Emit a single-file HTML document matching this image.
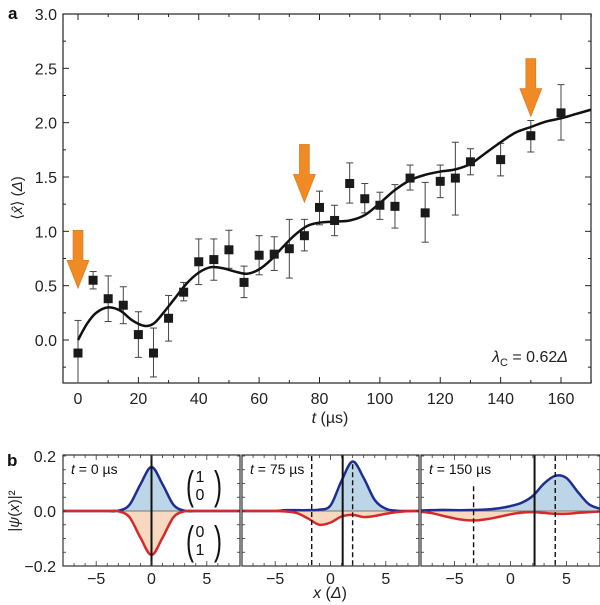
<!DOCTYPE html>
<html><head><meta charset="utf-8"><style>
body{margin:0;background:#fff;}
svg{display:block;font-family:"Liberation Sans",sans-serif;}
</style></head><body>
<svg id="fig" width="600" height="605" viewBox="0 0 600 605"></svg>
<script>
// ---- panel a data ----
const tVals=[0,5,10,15,20,25,30,35,40,45,50,55,60,65,70,75,80,85,90,95,100,105,110,115,120,125,130,140,150,160];
const xMean=[-0.12,0.55,0.38,0.32,0.05,-0.12,0.20,0.44,0.72,0.74,0.83,0.53,0.78,0.79,0.84,0.96,1.22,1.10,1.44,1.30,1.24,1.23,1.49,1.17,1.46,1.49,1.64,1.66,1.88,2.09];
const errLo=[-0.45,0.47,0.17,0.15,-0.16,-0.34,-0.01,0.36,0.51,0.55,0.66,0.39,0.60,0.64,0.57,0.82,1.06,0.96,1.26,1.17,1.11,1.03,1.38,0.90,1.31,1.15,1.52,1.51,1.73,1.84];
const errHi=[0.18,0.63,0.59,0.49,0.26,0.11,0.41,0.53,0.93,0.93,1.01,0.68,0.96,0.95,1.11,1.11,1.37,1.24,1.63,1.44,1.36,1.43,1.61,1.45,1.61,1.82,1.76,1.81,2.02,2.35];
const fitT=[0,3,6,10,14,18,22,25,28,32,36,40,44,48,52,56,60,64,68,72,76,80,85,90,95,100,105,110,115,120,125,130,135,140,145,150,155,160,165,170];
const fitY=[0,0.15,0.25,0.30,0.27,0.18,0.13,0.15,0.24,0.38,0.52,0.62,0.67,0.66,0.63,0.61,0.65,0.74,0.86,0.97,1.05,1.08,1.09,1.10,1.15,1.26,1.38,1.47,1.52,1.55,1.57,1.62,1.72,1.82,1.91,1.96,2.01,2.04,2.08,2.12];
const arrowT=[0,75,150];
const arrowTop=[1.01,1.80,2.59];
const xTicksA=[0,20,40,60,80,100,120,140,160];
const yTicksA=[0.0,0.5,1.0,1.5,2.0,2.5,3.0];
// ---- panel b data ----
const xGrid=[-8,-7,-6,-5,-4,-3,-2,-1,0,1,2,3,4,5,6,7,8];
const blue1=[0,0,0,0,0,0.001,0.022,0.097,0.16,0.097,0.022,0.001,0,0,0,0,0];
const red1=[0,0,0,0,0,-0.001,-0.022,-0.097,-0.16,-0.097,-0.022,-0.001,0,0,0,0,0];
const blue2=[0,0,0,0,0.003,0.003,0.003,0.005,0.02,0.11,0.18,0.12,0.04,0.008,0.001,0,0];
const red2=[0,0,0,0,-0.002,-0.008,-0.028,-0.05,-0.042,-0.02,-0.014,-0.022,-0.018,-0.01,-0.004,-0.001,0];
const blue3=[0.002,0.003,0.004,0.003,0.003,0.004,0.006,0.01,0.018,0.03,0.055,0.1,0.128,0.12,0.07,0.025,0.008];
const red3=[-0.003,-0.008,-0.018,-0.027,-0.033,-0.034,-0.029,-0.021,-0.012,-0.006,-0.004,-0.007,-0.01,-0.01,-0.007,-0.004,-0.002];
const solidX=[0,1.1,2.15];
const dashX=[[],[-1.7,2.0],[-3.3,4.0]];
const dashTop=[[],[0.2,0.17],[0.09,0.2]];
const panelLabels=["0","75","150"];
const xTicksB=[-5,0,5];
const yTicksB=[-0.2,0.0,0.2];

const NS="http://www.w3.org/2000/svg";
const svg=document.getElementById('fig');
function mk(tag,attrs,parent){const e=document.createElementNS(NS,tag);for(const k in attrs)e.setAttribute(k,attrs[k]);(parent||svg).appendChild(e);return e;}
function smooth(pts){let d="M"+pts[0][0]+","+pts[0][1];for(let i=0;i<pts.length-1;i++){const p0=pts[Math.max(0,i-1)],p1=pts[i],p2=pts[i+1],p3=pts[Math.min(pts.length-1,i+2)];const c1=[p1[0]+(p2[0]-p0[0])/6,p1[1]+(p2[1]-p0[1])/6],c2=[p2[0]-(p3[0]-p1[0])/6,p2[1]-(p3[1]-p1[1])/6];d+=" C"+c1[0].toFixed(2)+","+c1[1].toFixed(2)+" "+c2[0].toFixed(2)+","+c2[1].toFixed(2)+" "+p2[0].toFixed(2)+","+p2[1].toFixed(2);}return d;}

// ---- panel a ----
const L=63,R=591,T=14,B=383;
const xA=t=>78+t*(561-78)/160;
const yA=v=>340-v*(340-14)/3;
const gA=mk('g',{});


let fr=mk('rect',{x:L,y:T,width:R-L,height:B-T,fill:'none',stroke:'#222','stroke-width':1.2},gA);

for(let t=0;t<=170;t+=10){const x=xA(t);const len=(t%20===0)?6:3;
 mk('line',{x1:x,y1:B,x2:x,y2:B-len,stroke:'#222','stroke-width':1},gA);
 mk('line',{x1:x,y1:T,x2:x,y2:T+len,stroke:'#222','stroke-width':1},gA);}
for(let v=-0.25;v<=3.0;v+=0.25){const y=yA(v);const len=(Math.abs(v*2-Math.round(v*2))<1e-6)?6:3;
 mk('line',{x1:L,y1:y,x2:L+len,y2:y,stroke:'#222','stroke-width':1},gA);
 mk('line',{x1:R,y1:y,x2:R-len,y2:y,stroke:'#222','stroke-width':1},gA);}
xTicksA.forEach(t=>{const e=mk('text',{x:xA(t),y:404,'text-anchor':'middle','font-size':16,fill:'#222'},gA);e.textContent=t;
 });
yTicksA.forEach(v=>{const e=mk('text',{x:57,y:yA(v)+6,'text-anchor':'end','font-size':16,fill:'#222'},gA);e.textContent=v.toFixed(1);
 });
let e=mk('text',{x:330,y:423,'text-anchor':'middle','font-size':16,fill:'#222'},gA);
e.innerHTML='<tspan font-style="italic">t</tspan> (µs)';

e=mk('text',{x:0,y:0,'text-anchor':'middle','font-size':15,fill:'#222',transform:'translate(22,198) rotate(-90)'},gA);
e.innerHTML='⟨<tspan font-style="italic">x̂</tspan>⟩ (<tspan font-style="italic">Δ</tspan>)';

e=mk('text',{x:8,y:19,'font-size':17,'font-weight':'bold',fill:'#111'},gA);e.textContent='a';

e=mk('text',{x:568,y:362,'text-anchor':'end','font-size':16,fill:'#222'},gA);
e.innerHTML='<tspan font-style="italic">λ</tspan><tspan font-size="11" dy="4">C</tspan><tspan dy="-4"> = 0.62</tspan><tspan font-style="italic">Δ</tspan>';

// error bars & points
tVals.forEach((t,i)=>{const x=xA(t);
 const g=mk('g',{},gA);
 
 const lo=Math.max(-0.4,errLo[i]);
 mk('line',{x1:x,y1:yA(lo),x2:x,y2:yA(errHi[i]),stroke:'#444','stroke-width':1},g);
 mk('line',{x1:x-3.5,y1:yA(errHi[i]),x2:x+3.5,y2:yA(errHi[i]),stroke:'#444','stroke-width':1},g);
 if(errLo[i]>-0.4)mk('line',{x1:x-3.5,y1:yA(lo),x2:x+3.5,y2:yA(lo),stroke:'#444','stroke-width':1},g);
});
const fit=mk('path',{d:smooth(fitT.map((t,i)=>[xA(t),yA(fitY[i])])),fill:'none',stroke:'#111','stroke-width':2.5},gA);

tVals.forEach((t,i)=>{const r=mk('rect',{x:xA(t)-4.5,y:yA(xMean[i])-4.5,width:9,height:9,fill:'#1a1a1a'},gA);
 });
arrowT.forEach((t,i)=>{const x=xA(t),y0=yA(arrowTop[i]);
 const p=mk('path',{d:`M${x-5},${y0} L${x+5},${y0} L${x+5},${y0+30} L${x+11},${y0+30} L${x},${y0+58} L${x-11},${y0+30} L${x-5},${y0+30} Z`,fill:'#f08a24',stroke:'#d8761a','stroke-width':0.6},gA);
 });

// ---- panel b ----
const pL=[63,242,421],pR=[240,419,600],bT=455,bB=566;
const yB=v=>511-v*(55/0.2);
e=mk('text',{x:7,y:466,'font-size':17,'font-weight':'bold',fill:'#111'});e.textContent='b';

yTicksB.forEach(v=>{const t=mk('text',{x:56,y:yB(v)+6,'text-anchor':'end','font-size':16,fill:'#222'});t.textContent=(v<0?'−':'')+Math.abs(v).toFixed(1);
 });
e=mk('text',{x:0,y:0,'text-anchor':'middle','font-size':15,fill:'#222',transform:'translate(19,511) rotate(-90)'});
e.innerHTML='|<tspan font-style="italic">ψ</tspan>(<tspan font-style="italic">x</tspan>)|²';

e=mk('text',{x:330,y:598,'text-anchor':'middle','font-size':16,fill:'#222'});
e.innerHTML='<tspan font-style="italic">x</tspan> (<tspan font-style="italic">Δ</tspan>)';

const blues=[blue1,blue2,blue3],reds=[red1,red2,red3];
for(let p=0;p<3;p++){
 const l=pL[p],r=pR[p];const xB=x=>l+(x+8)*(r-l)/16;
 const g=mk('g',{});
 
 const cp=mk('clipPath',{id:'cp'+p},g);mk('rect',{x:l,y:bT,width:r-l,height:bB-bT},cp);
 const inner=mk('g',{'clip-path':'url(#cp'+p+')'},g);
 const bp=xGrid.map((x,i)=>[xB(x),yB(blues[p][i])]);
 const rp=xGrid.map((x,i)=>[xB(x),yB(reds[p][i])]);
 const bd=smooth(bp),rd=smooth(rp);
 let f=mk('path',{d:bd+` L${xB(8)},${yB(0)} L${xB(-8)},${yB(0)} Z`,fill:'#bcd5e7'},inner);
 
 f=mk('path',{d:rd+` L${xB(8)},${yB(0)} L${xB(-8)},${yB(0)} Z`,fill:'#f8d9bf'},inner);
 
 mk('line',{x1:l,y1:yB(0),x2:r,y2:yB(0),stroke:'#777','stroke-width':1},inner);
 f=mk('path',{d:bd,fill:'none',stroke:'#1f2f8f','stroke-width':2.5},inner);
 
 f=mk('path',{d:rd,fill:'none',stroke:'#d42a2a','stroke-width':2.5},inner);
 
 let s=mk('line',{x1:xB(solidX[p]),y1:bT,x2:xB(solidX[p]),y2:bB,stroke:'#111','stroke-width':2},inner);
 
 dashX[p].forEach((dx,k)=>{const d=mk('line',{x1:xB(dx),y1:yB(dashTop[p][k]),x2:xB(dx),y2:bB,stroke:'#111','stroke-width':1.4,'stroke-dasharray':'5,3'},inner);
  });
 mk('rect',{x:l,y:bT,width:r-l,height:bB-bT,fill:'none',stroke:'#333','stroke-width':1.2},g);
 for(let x=-8;x<=8;x++){const len=(x%5===0)?5:3;mk('line',{x1:xB(x),y1:bB,x2:xB(x),y2:bB-len,stroke:'#333','stroke-width':0.8},g);mk('line',{x1:xB(x),y1:bT,x2:xB(x),y2:bT+len,stroke:'#333','stroke-width':0.8},g);}
 for(let v=-0.2;v<=0.2001;v+=0.05){mk('line',{x1:l,y1:yB(v),x2:l+3,y2:yB(v),stroke:'#333','stroke-width':0.8},g);mk('line',{x1:r,y1:yB(v),x2:r-3,y2:yB(v),stroke:'#333','stroke-width':0.8},g);}
 xTicksB.forEach(x=>{const t=mk('text',{x:xB(x),y:584,'text-anchor':'middle','font-size':16,fill:'#222'},g);t.textContent=(x<0?'−':'')+Math.abs(x);
  });
 const tl=mk('text',{x:l+8,y:474,'font-size':14,fill:'#111'},g);
 tl.innerHTML='<tspan font-style="italic">t</tspan> = '+panelLabels[p]+' µs';
 
}
// spinor annotations
function spinor(x,y,a,b,name){const g=mk('g',{});
 const t1=mk('text',{x:x,y:y,'font-size':40,fill:'#111','font-weight':'normal',transform:`scale(0.6,1)`},g);
 t1.setAttribute('x',x/0.6);t1.textContent='(';
 const t2=mk('text',{x:(x+28)/0.6,y:y,'font-size':40,fill:'#111',transform:`scale(0.6,1)`},g);t2.textContent=')';
 const a1=mk('text',{x:x+14,y:y-17,'text-anchor':'middle','font-size':16,fill:'#111'},g);a1.textContent=a;
 const b1=mk('text',{x:x+14,y:y+1,'text-anchor':'middle','font-size':16,fill:'#111'},g);b1.textContent=b;}
spinor(186,499,'1','0','spinor-up-label');
spinor(186,554,'0','1','spinor-down-label');
</script>
</body></html>
